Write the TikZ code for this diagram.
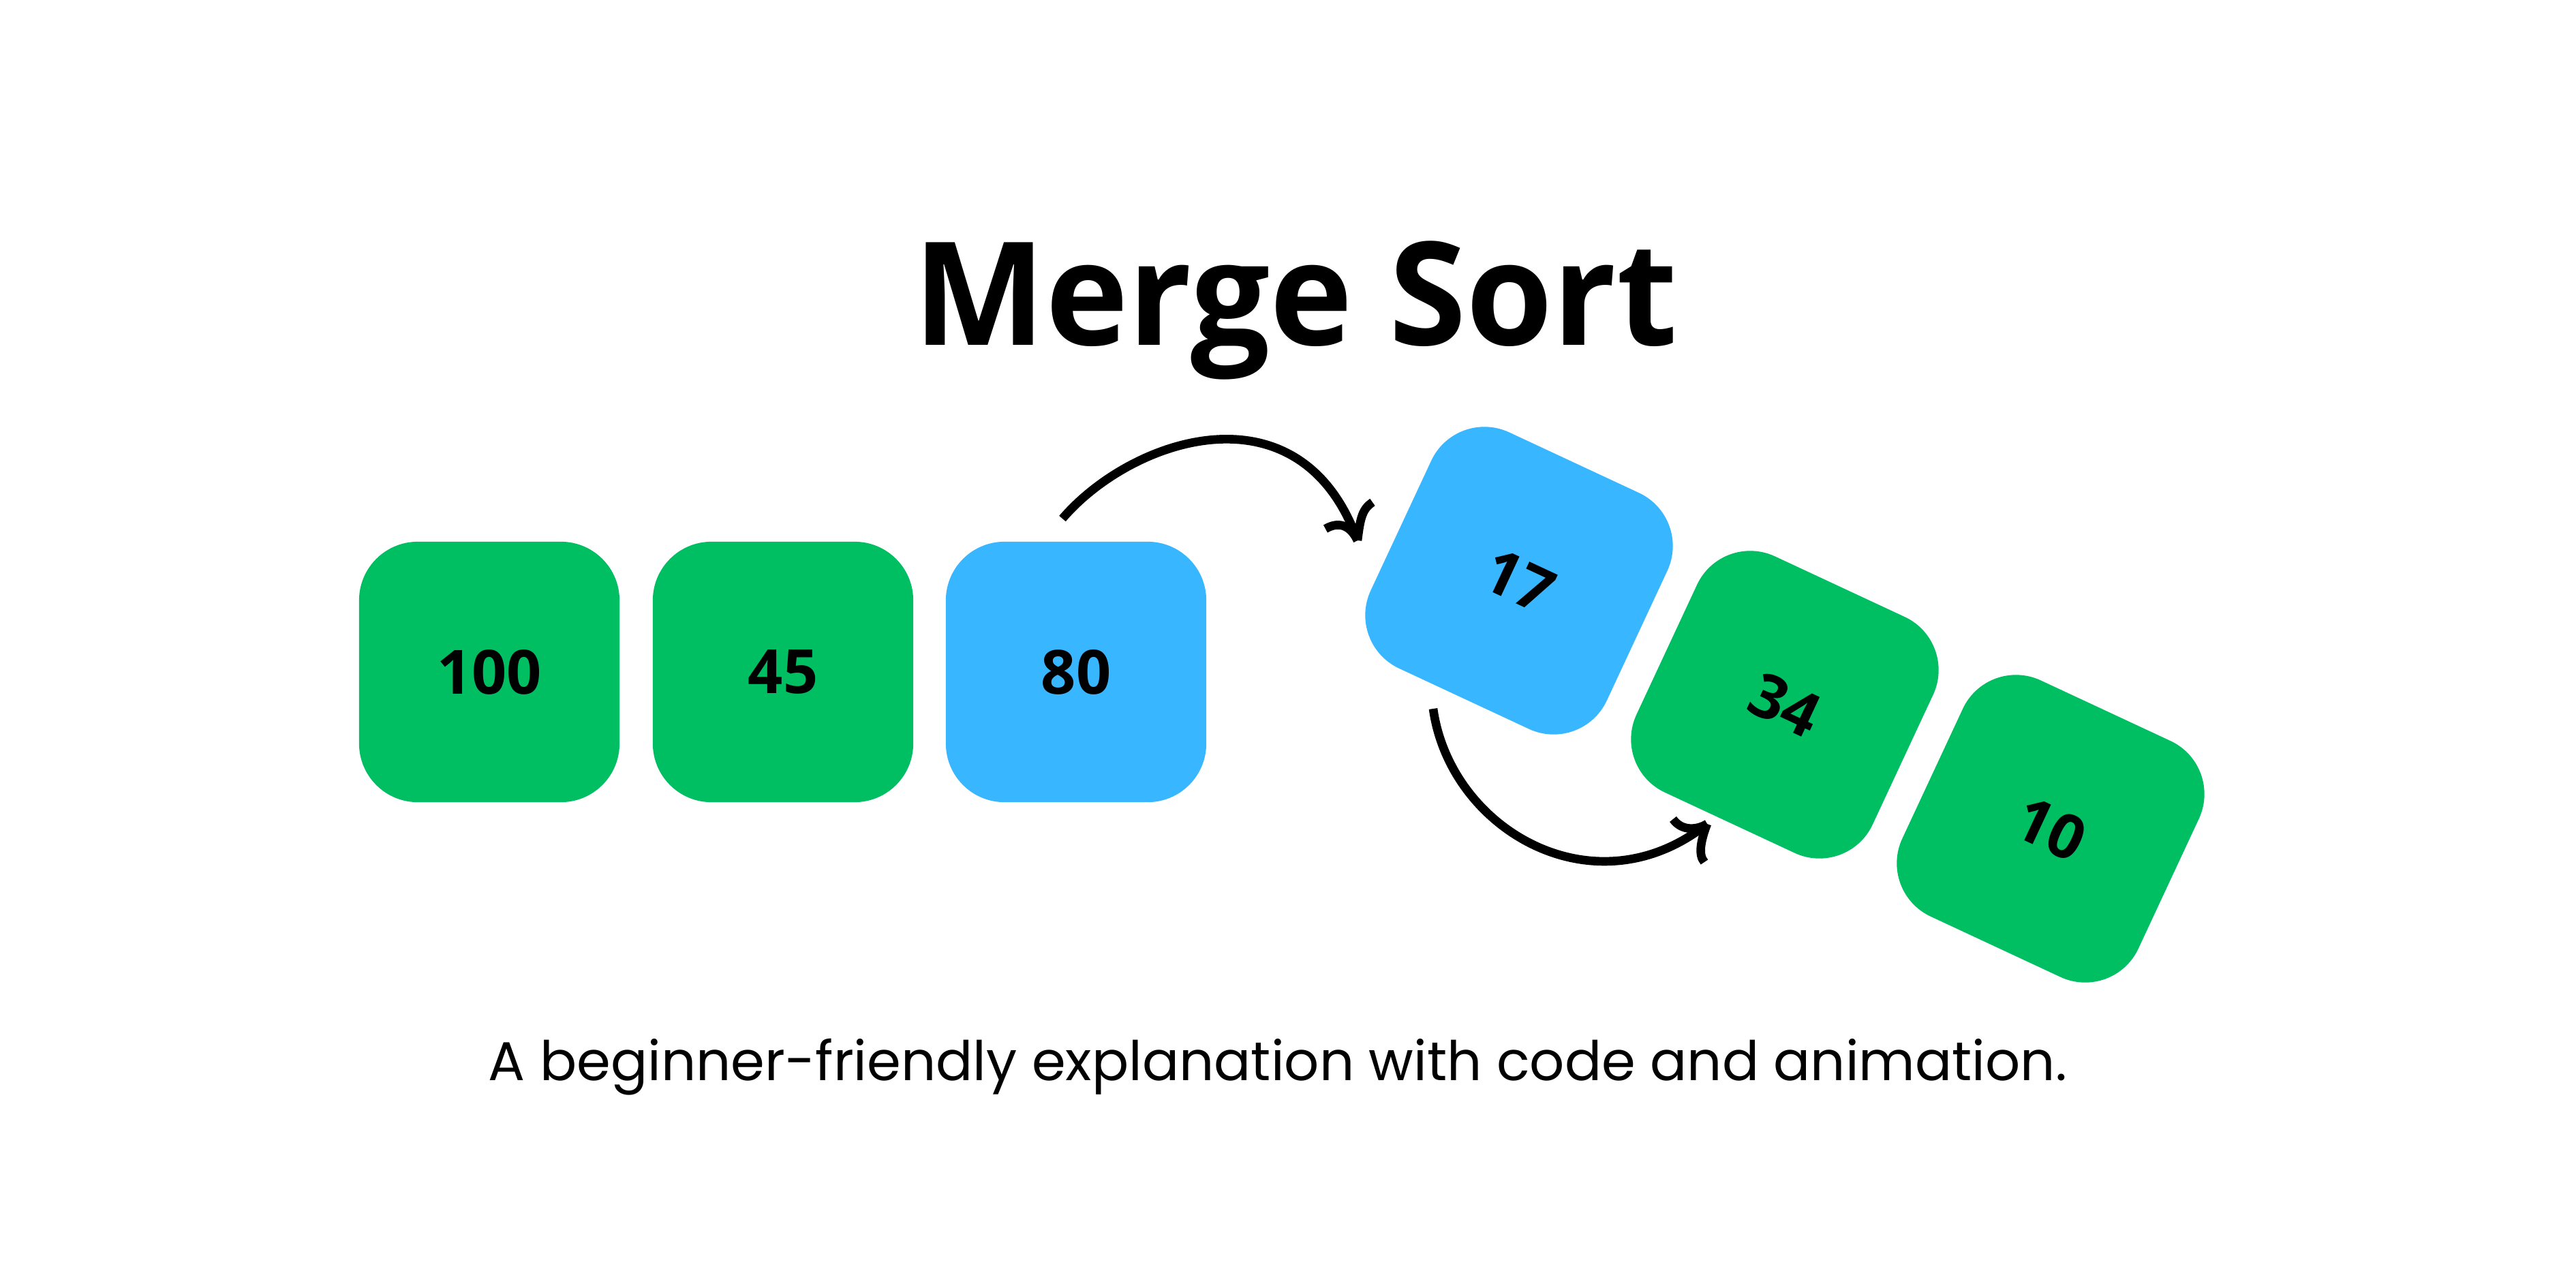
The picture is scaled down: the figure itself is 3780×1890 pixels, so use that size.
\documentclass[tikz,border=0pt]{standalone}
\usepackage{fontspec}
\newfontfamily\titlefont{Open Sans}
\newfontfamily\subfont{Poppins}
\definecolor{msgreen}{HTML}{00BF63}
\definecolor{msblue}{HTML}{38B6FF}
\begin{document}
\begin{tikzpicture}[x=0.01cm,y=-0.01cm,
  card/.style={rectangle, minimum width=3.82cm, minimum height=3.82cm, inner sep=0pt,
    rounded corners=0.86cm, text=black, font=\titlefont\bfseries\fontsize{25.5}{30}\selectfont},
  gcard/.style={card, fill=msgreen},
  bcard/.style={card, fill=msblue},
  curve/.style={line width=3.6pt, draw=black, line join=round}]
\useasboundingbox (0,0) rectangle (3780,1890);
\fill[white] (0,0) rectangle (3780,1890);
% title
\node[anchor=base, inner sep=0pt, xscale=0.975, font=\titlefont\bfseries\fontsize{60}{72}\selectfont] (title) at (1901,506) {Merge Sort};
% straight row
\node[gcard] (c100) at (718,986) {100};
\node[gcard] (c45) at (1149,986) {45};
\node[bcard] (c80) at (1579,986) {80};
% rotated row
\node[bcard, rotate=-25] (c17) at (2229,852) {17};
\node[gcard, rotate=-25] (c34) at (2619,1034) {34};
\node[gcard, rotate=-25] (c10) at (3009,1216) {10};
% arrow 1
\coordinate (a1s) at (1559,761);
\coordinate (a1e) at (1992,793);
\draw[curve] (a1s) .. controls (1661,642) and (1908,560) .. (a1e);
\draw[curve] (1945,776) .. controls (1962,766) and (1980,768) .. (a1e);
\draw[curve] (a1e) .. controls (1996,760) and (1999,747) .. (2014,737);
% arrow 2
\coordinate (a2s) at (2103,1040);
\coordinate (a2e) at (2505,1209);
\draw[curve] (a2s) .. controls (2128,1218) and (2340,1340) .. (a2e);
\draw[curve] (2455,1202) .. controls (2468,1220) and (2490,1218) .. (a2e);
\draw[curve] (a2e) .. controls (2495,1235) and (2492,1255) .. (2501,1265);
% subtitle
\node[anchor=base, inner sep=0pt, font=\subfont\fontsize{22.8}{28}\selectfont] (sub) at (1875,1585) {A beginner-friendly explanation with code and animation.};
\end{tikzpicture}
\end{document}
